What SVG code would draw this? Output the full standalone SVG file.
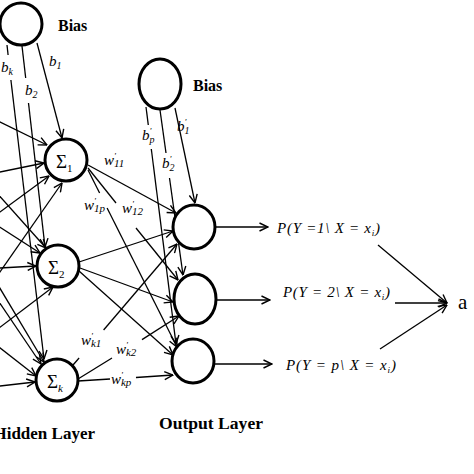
<svg xmlns="http://www.w3.org/2000/svg" width="474" height="474" viewBox="0 0 474 474">
<style>
.n{fill:#fff;stroke:#000;stroke-width:3}
.c line{stroke:#000;stroke-width:1.3;fill:none}
.a{marker-end:url(#ar)}
.t{font-family:"Liberation Serif","Times New Roman",serif;fill:#000}
.i{font-style:italic}
.b{font-weight:bold}
</style>
<defs>
<marker id="ar" viewBox="0 0 10 10" refX="9.5" refY="5" markerWidth="10" markerHeight="10" markerUnits="userSpaceOnUse" orient="auto">
<path d="M1,1 L9.5,5 L1,9" fill="none" stroke="#000" stroke-width="1.4"/>
</marker>
</defs>
<rect width="474" height="474" fill="#fff"/>
<g class="c" id="connectors">
<line class="a" x1="-5" y1="119.6" x2="47" y2="145"/>
<line class="a" x1="-5" y1="173" x2="44" y2="163"/>
<line class="a" x1="-5" y1="215.7" x2="49" y2="176"/>
<line class="a" x1="-5" y1="279" x2="62" y2="183"/>
<line class="a" x1="-5" y1="191" x2="46" y2="248"/>
<line class="a" x1="-5" y1="224" x2="40" y2="253"/>
<line class="a" x1="-5" y1="268.3" x2="36" y2="266"/>
<line class="a" x1="-5" y1="331" x2="53" y2="287"/>
<line class="a" x1="-5" y1="280" x2="44" y2="362"/>
<line class="a" x1="-5" y1="296" x2="41" y2="364"/>
<line class="a" x1="-5" y1="344" x2="36" y2="376"/>
<line class="a" x1="-5" y1="386.6" x2="35" y2="382"/>
<line x1="7" y1="45" x2="8.1" y2="55"/>
<line class="a" x1="10.9" y1="80" x2="44" y2="359"/>
<line x1="22" y1="46" x2="25.7" y2="78"/>
<line class="a" x1="28.5" y1="103" x2="45" y2="247"/>
<line class="a" x1="37" y1="43" x2="62" y2="138"/>
<line x1="146" y1="107" x2="148.3" y2="125"/>
<line class="a" x1="151.3" y1="149" x2="176" y2="344"/>
<line x1="160" y1="110" x2="166" y2="153"/>
<line class="a" x1="169.5" y1="178" x2="183" y2="275"/>
<line class="a" x1="175" y1="108" x2="195" y2="203"/>
<line class="a" x1="88" y1="165" x2="176" y2="213"/>
<line x1="88" y1="168" x2="116" y2="203"/>
<line class="a" x1="136" y1="228" x2="178" y2="280"/>
<line x1="88" y1="170" x2="99.6" y2="193"/>
<line class="a" x1="107.1" y1="208" x2="177" y2="347"/>
<line class="a" x1="79" y1="262" x2="173" y2="231"/>
<line class="a" x1="80" y1="268" x2="173" y2="302"/>
<line class="a" x1="79" y1="271" x2="173" y2="355"/>
<line x1="73" y1="365" x2="79.1" y2="358"/>
<line class="a" x1="103.6" y1="330" x2="177" y2="244"/>
<line x1="78" y1="379" x2="112" y2="358"/>
<line class="a" x1="142" y1="339.6" x2="179" y2="316"/>
<line x1="78" y1="381" x2="110" y2="379"/>
<line class="a" x1="136" y1="377.5" x2="173" y2="375"/>
<line class="a" x1="216" y1="227" x2="268" y2="227"/>
<line class="a" x1="216" y1="300" x2="270" y2="300"/>
<line class="a" x1="215" y1="364" x2="272" y2="364"/>
<line class="a" x1="378" y1="245" x2="447" y2="303"/>
<line class="a" x1="395" y1="303" x2="447" y2="303"/>
<line class="a" x1="380" y1="349" x2="447" y2="305"/>
</g>
<g id="bias1"><circle class="n" cx="21" cy="24" r="21"/><text class="t b" x="58" y="31" font-size="16">Bias</text></g>
<g id="bias2"><ellipse class="n" cx="160" cy="84" rx="21" ry="25"/><text class="t b" x="193" y="91" font-size="16">Bias</text></g>
<g id="h1"><circle class="n" cx="66" cy="160" r="21"/><text class="t" x="56" y="168" font-size="19">Σ<tspan font-size="11" dy="4">1</tspan></text></g>
<g id="h2"><circle class="n" cx="58" cy="266" r="21"/><text class="t" x="48" y="274" font-size="19">Σ<tspan font-size="11" dy="4">2</tspan></text></g>
<g id="hk"><circle class="n" cx="57" cy="380" r="21"/><text class="t" x="47" y="388" font-size="19">Σ<tspan class="i" font-size="11" dy="4">k</tspan></text></g>
<g id="o1"><ellipse class="n" cx="194" cy="227" rx="21" ry="22"/></g>
<g id="o2"><ellipse class="n" cx="195" cy="299" rx="21" ry="25"/></g>
<g id="op"><ellipse class="n" cx="193" cy="361" rx="21" ry="22"/></g>
<g id="labels" class="t i">
<text x="1" y="72" font-size="15">b<tspan font-size="10" dy="3">k</tspan></text>
<text x="25" y="95" font-size="15">b<tspan font-size="10" dy="3">2</tspan></text>
<text x="49" y="66" font-size="15">b<tspan font-size="10" dy="3">1</tspan></text>
<text x="142" y="140" font-size="15">b<tspan font-size="9" dy="-6">'</tspan><tspan font-size="10" dx="-2" dy="9">p</tspan></text>
<text x="162" y="168" font-size="15">b<tspan font-size="9" dy="-6">'</tspan><tspan font-size="10" dx="-2" dy="9">2</tspan></text>
<text x="177" y="131" font-size="15">b<tspan font-size="9" dy="-6">'</tspan><tspan font-size="10" dx="-2" dy="9">1</tspan></text>
<text x="104" y="165" font-size="15">w<tspan font-size="9" dy="-6">'</tspan><tspan font-size="11" dx="-2" dy="8">11</tspan></text>
<text x="84" y="210" font-size="15">w<tspan font-size="9" dy="-6">'</tspan><tspan font-size="11" dx="-2" dy="8">1p</tspan></text>
<text x="122" y="213" font-size="15">w<tspan font-size="9" dy="-6">'</tspan><tspan font-size="11" dx="-2" dy="8">12</tspan></text>
<text x="81" y="345" font-size="15">w<tspan font-size="9" dy="-6">'</tspan><tspan font-size="11" dx="-2" dy="8">k1</tspan></text>
<text x="116" y="354" font-size="15">w<tspan font-size="9" dy="-6">'</tspan><tspan font-size="11" dx="-2" dy="8">k2</tspan></text>
<text x="111" y="384" font-size="15">w<tspan font-size="9" dy="-6">'</tspan><tspan font-size="11" dx="-2" dy="8">kp</tspan></text>
<text x="277" y="233" font-size="15" textLength="103" lengthAdjust="spacing">P(Y =1\ X = x<tspan font-size="9" dy="3">i</tspan><tspan dy="-3">)</tspan></text>
<text x="283" y="297" font-size="15" textLength="107" lengthAdjust="spacing">P(Y = 2\ X = x<tspan font-size="9" dy="3">i</tspan><tspan dy="-3">)</tspan></text>
<text x="286" y="370" font-size="15" textLength="110" lengthAdjust="spacing">P(Y = p\ X = x<tspan font-size="9" dy="3">i</tspan><tspan dy="-3">)</tspan></text>
</g>
<text class="t" x="458" y="309" font-size="21">a</text>
<text class="t b" x="159" y="429" font-size="17" textLength="104" lengthAdjust="spacingAndGlyphs">Output Layer</text>
<text class="t b" x="95" y="439" font-size="17" text-anchor="end">Hidden Layer</text>
</svg>
